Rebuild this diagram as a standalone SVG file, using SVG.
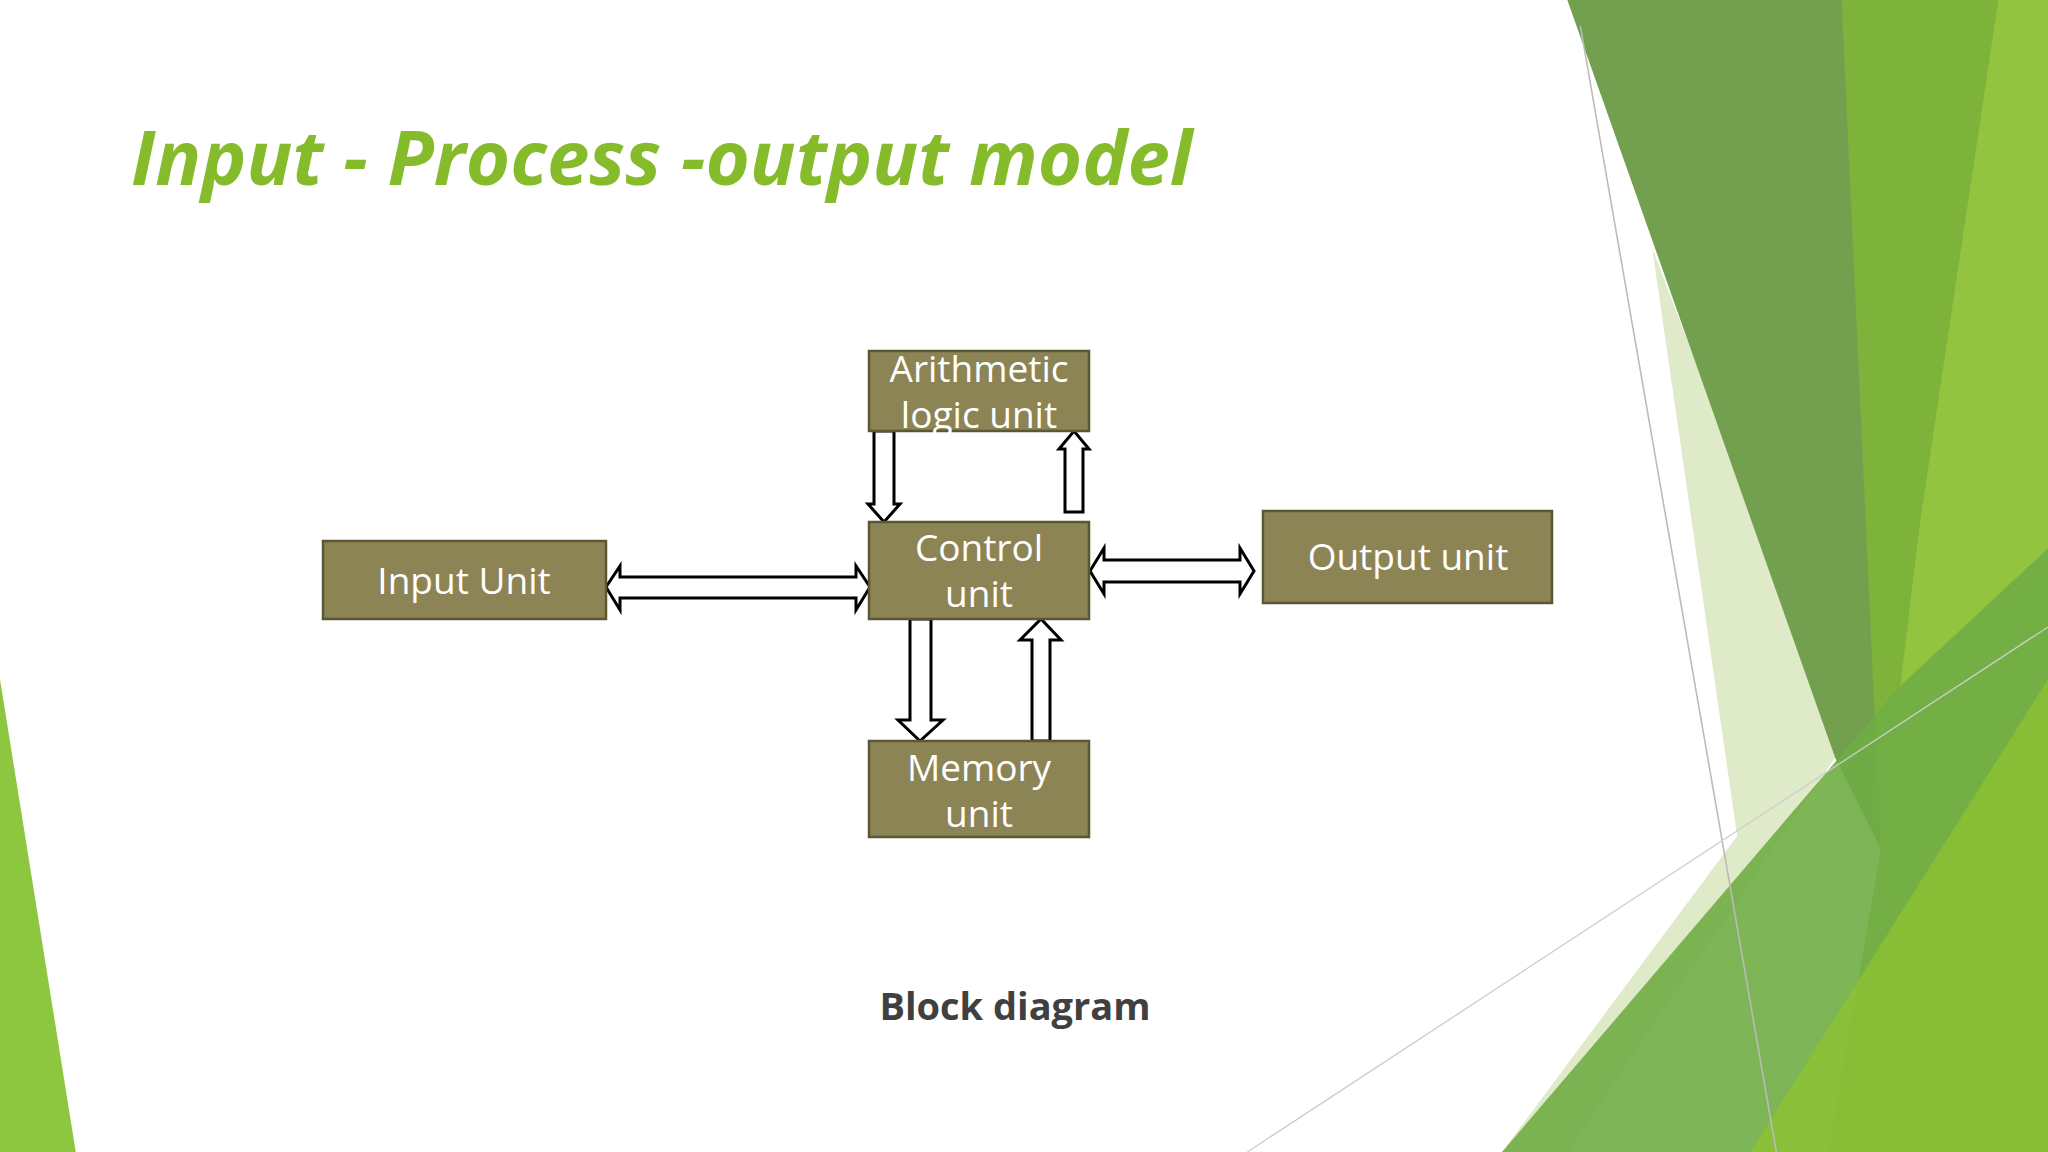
<svg xmlns="http://www.w3.org/2000/svg" width="2048" height="1152" viewBox="0 0 2048 1152">
<defs><style>
.box{fill:#8c8454;stroke:#5c5733;stroke-width:2.5}
.lbl{font-family:"Open Sans","DejaVu Sans",sans-serif;font-size:37px;fill:#fff;text-anchor:middle}
.arr{fill:#fff;stroke:#000;stroke-width:3;stroke-linejoin:miter}
</style></defs>
<rect width="2048" height="1152" fill="#fff"/>
<g id="background" transform="scale(1.30612)">
<polygon points="0,520 58,882 0,882" fill="#8dc63f"/>
<polygon points="1265,190 1440,650 1405,580 1200,882 1150,882 1330,640" fill="#dfeac8"/>
<polygon points="1410,0 1568,0 1568,882 1400,882 1440,650" fill="#93c43f"/>
<polygon points="1200,0 1420,0 1440,650 1405,580" fill="#72a04e"/>
<polygon points="1410,0 1530,0 1470,400 1440,650" fill="#7db33a"/>
<polygon points="1150,882 1455,525 1568,420 1568,882" fill="#70ad45" opacity="0.9"/>
<polygon points="1340,882 1568,520 1568,882" fill="#8cc232" opacity="0.8"/>
<line x1="1210" y1="20" x2="1360" y2="882" stroke="#bbb" stroke-width="1.2"/>
<line x1="955" y1="882" x2="1568" y2="480" stroke="#ccc" stroke-width="1"/>
</g>
<text x="131" y="185" font-family="'Open Sans','DejaVu Sans',sans-serif" font-size="76" font-style="italic" font-weight="bold" fill="#86bc2b">Input - Process -output model</text>
<g id="connectors">
<polygon class="arr" points="874,431 894,431 894,504 900,504 884,522 868,504 874,504"/>
<polygon class="arr" points="1065,512 1083,512 1083,449 1089,449 1074,431 1059,449 1065,449"/>
<polygon class="arr" points="910,619 931,619 931,720 943,720 920,741 898,720 910,720"/>
<polygon class="arr" points="1032,741 1050,741 1050,640 1061,640 1041,619 1020,640 1032,640"/>
<polygon class="arr" points="606,587 620,566 620,577 856,577 856,566 870,587 856,610 856,598 620,598 620,610"/>
<polygon class="arr" points="1090,571 1104,548 1104,560 1240,560 1240,548 1254,571 1240,594 1240,582 1104,582 1104,594"/>
</g>
<g id="alu"><rect class="box" x="869" y="351" width="220" height="80"/><text class="lbl" x="979" y="382" font-size="35">Arithmetic</text><text class="lbl" x="979" y="428" font-size="35">logic unit</text></g>
<g id="control"><rect class="box" x="869" y="522" width="220" height="97"/><text class="lbl" x="979" y="561">Control</text><text class="lbl" x="979" y="607">unit</text></g>
<g id="memory"><rect class="box" x="869" y="741" width="220" height="96"/><text class="lbl" x="979" y="781">Memory</text><text class="lbl" x="979" y="827">unit</text></g>
<g id="input"><rect class="box" x="323" y="541" width="283" height="78"/><text class="lbl" x="464" y="594">Input Unit</text></g>
<g id="output"><rect class="box" x="1263" y="511" width="289" height="92"/><text class="lbl" x="1408" y="570">Output unit</text></g>
<text x="1015" y="1020" font-family="'Open Sans','DejaVu Sans',sans-serif" font-size="38" font-weight="bold" fill="#404040" text-anchor="middle">Block diagram</text>
</svg>
